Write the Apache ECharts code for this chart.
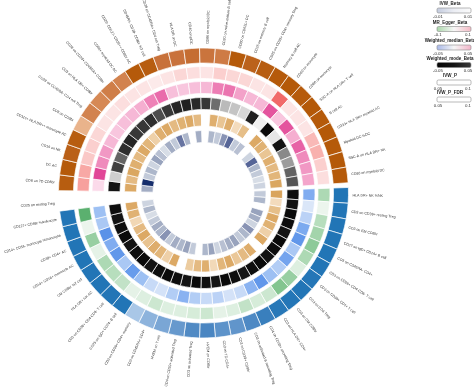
<!DOCTYPE html>
<html><head><meta charset="utf-8">
<script src="https://cdn.jsdelivr.net/npm/echarts@6/dist/echarts.min.js"></script>
<style>html,body{margin:0;padding:0;background:#fff}#c{width:474px;height:389px}</style>
</head><body><div id="c"></div>
<script>
// ---- data: 28 traits in the upper (positive) sector, 28 in the lower (negative) sector ----
const labels = [
  'CD8 on TD CD8br','DC AC','CD16 on NK','CD11c+ HLA DR++ monocyte AC','CD8 on CD8br',
  'CD28 on CD45RA- CD4 not Treg','CD3 on HLA DR+ CD8br','CD28 on CD28+ CD45RA+ CD8br','CD86+ myeloid DC AC',
  'CD28- CD127- CD25++ CD8br AC','CD45RA- CD28- CD8br %T cell','CD28 on CD45RA+ CD4 not Treg','HLA DR on DC',
  'CD40 on pDC','CD86 on myeloid DC','CD20 on naive-mature B cell','CD80 on CD62L+ DC','CD25 on memory B cell',
  'CD25 on CD39+ CD4+ memory Treg','Memory B cell AC','CD80 on monocyte','CD86 on monocyte',
  'SSC-A on HLA DR+ T cell','B cell AC','CD33+ HLA DR+ myeloid AC','Myeloid DC %DC','SSC-A on HLA DR+ NK',
  'CD80 on myeloid DC',
  'HLA DR+ NK %NK','CD3 on CD39+ resting Treg','CD3 on EM CD8br','CD27 on IgD+ CD24+ B cell','CD3 on CD45RA- CD4+',
  'CD3 on CD28+ CD4-CD8- T cell','CD3 on CD39+ CD4+ T cell','CD3 on CD4 Treg','CD3 on CM CD8br','CD3 on HLA DR+ CD4+',
  'CD4 on CD39+ secreting Treg','CD3 on activated & secreting Treg','CD3 on CD39+ CD8br','CD3 on TD CD4+',
  'HVEM on CD8br','CD3 on activated Treg','CD4 on CD39+ activated Treg','HVEM on T cell','CD3 on CD45RA+ CD4+',
  'CD3 on CD39+ CD4+ memory','CD25 on IgD+ CD24- B cell','CD3 on CD28+ CD4-CD8- T cell','HLA DR+ NK AC',
  'CM CD8br %T cell','CD14+ CD16+ monocyte AC','CD39+ CD4+ AC','CD14+ CD16- monocyte %monocyte',
  'CD127+ CD8br %leukocyte','CD25 on resting Treg'
];
const ivwBeta = [
  0.0095,0.0098,0.0092,0.0095,0.0035,0.0062,0.0058,0.0066,0.0062,0.0098,0.0095,0.0075,0.0074,0.0079,
  0.0073,0.0068,0.0098,0.0090,0.0095,0.0098,0.0099,0.0097,0.0099,0.0098,0.0099,0.0098,0.0099,0.0098,
  -0.0099,-0.0098,-0.0099,-0.0098,-0.0099,-0.0098,-0.0097,-0.0098,-0.0097,-0.0095,-0.0085,-0.0073,-0.0063,-0.0065,
  -0.0075,-0.0072,-0.0060,-0.0050,-0.0042,-0.0030,-0.0098,-0.0098,-0.0099,-0.0098,-0.0099,-0.0098,-0.0099,-0.0098
];
const mrEggerBeta = [
  0.065,0.060,0.040,0.035,0.030,0.020,0.020,0.025,0.020,0.020,0.015,0.020,0.030,0.025,
  0.020,0.035,0.030,0.030,0.020,0.020,0.095,0.020,0.020,0.020,0.050,0.055,0.035,0.025,
  -0.045,-0.010,-0.040,-0.050,-0.060,-0.045,-0.020,-0.055,-0.065,-0.030,-0.025,-0.035,-0.020,-0.015,
  -0.030,-0.025,-0.020,-0.020,-0.030,-0.020,-0.015,-0.035,-0.040,-0.045,-0.015,-0.055,-0.010,-0.085
];
const wMedianBeta = [
  0.012,0.048,0.033,0.030,0.022,0.018,0.020,0.022,0.025,0.035,0.040,0.020,0.018,0.020,
  0.022,0.036,0.038,0.028,0.022,0.022,0.045,0.018,0.045,0.025,0.042,0.033,0.030,0.027,
  -0.032,-0.010,-0.018,-0.033,-0.040,-0.022,-0.035,-0.020,-0.025,-0.040,-0.030,-0.015,-0.012,-0.018,
  -0.015,-0.020,-0.030,-0.020,-0.012,-0.015,-0.025,-0.038,-0.022,-0.040,-0.032,-0.042,-0.022,-0.025
];
const wModeBeta = [
  0.048,0.008,0.038,0.030,0.042,0.044,0.040,0.040,0.042,0.035,0.040,0.044,0.045,0.043,
  0.040,0.028,0.012,0.010,0.006,0.045,0.001,0.050,0.003,0.048,0.022,0.018,0.030,0.033,
  -0.049,-0.048,-0.050,-0.049,-0.048,-0.050,-0.049,-0.048,-0.050,-0.049,-0.047,-0.049,-0.050,-0.048,
  -0.049,-0.050,-0.048,-0.049,-0.050,-0.049,-0.048,-0.050,-0.049,-0.048,-0.050,-0.049,-0.048,-0.049
];
const ivwP = [
  0.012,0.020,0.010,0.015,0.020,0.012,0.018,0.030,0.015,0.012,0.020,0.016,0.012,0.020,
  0.050,0.015,0.025,0.014,0.035,0.022,0.050,0.012,0.016,0.025,0.015,0.020,0.018,0.010,
  0.008,0.035,0.022,0.012,0.016,0.030,0.012,0.050,0.014,0.020,0.026,0.012,0.018,0.034,
  0.015,0.020,0.028,0.050,0.012,0.030,0.018,0.014,0.024,0.012,0.020,0.033,0.016,0.012
];
const ivwPFdr = [
  0.55,0.05,0.70,0.60,0.75,0.50,0.65,0.80,0.55,0.70,0.35,0.60,1.00,0.55,
  1.00,0.60,0.70,0.45,0.30,0.70,0.65,1.00,0.75,0.30,0.60,0.70,0.80,0.75,
  0.70,0.60,1.00,0.50,0.55,0.75,0.45,0.60,0.70,0.50,0.55,0.65,0.75,0.50,
  0.60,1.00,0.70,0.50,0.60,0.55,0.70,0.45,0.60,0.55,0.70,0.80,0.60,0.75
];
const legendTitles = ['IVW_Beta','MR_Egger_Beta','Weighted_median_Beta','Weighted_mode_Beta','IVW_P','IVW_P_FDR'];
const legendTicks = [['-0.01','0.01'],['-0.1','0.1'],['-0.05','0.05'],['-0.05','0.05'],['0.05','0.1'],['0.05','0.1']];

// ---- layout / styles ----
const nTop = 28, gap = 0.3, nAll = labels.length;
const totalUnits = nAll + 2 * gap;
function cellStart(i) { return i < nTop ? gap / 2 + i : gap * 1.5 + i; }
const rings = [
  {data: ivwBeta, r0: 130, r1: 145, min: -0.01, max: 0.01,
   colors: ['#1f74b5','#4a86c2','#7aa6d5','#b5cfec','#f7f7f7','#f2c7a6','#dc9462','#c8713a','#b35806']},
  {data: mrEggerBeta, r0: 114.5, r1: 126.5, min: -0.1, max: 0.1,
   colors: ['#3f9f5a','#6dbb7d','#a3d4ab','#d6ecd9','#fbfbfb','#fcdede','#f9b9b7','#f68f8b','#f06060']},
  {data: wMedianBeta, r0: 99.5, r1: 111.5, min: -0.05, max: 0.05,
   colors: ['#3f7fe0','#6a9ded','#9dc0f3','#d2e1f8','#fafafa','#fbd9e9','#f5aed0','#ec77b1','#df3d92']},
  {data: wModeBeta, r0: 83.5, r1: 95.5, min: -0.05, max: 0.05,
   colors: ['#0a0a0a','#7a7a7a','#f5f5f5','#7a7a7a','#0a0a0a']},
  {data: ivwP, r0: 67, r1: 79, min: 0, max: 0.05,
   colors: ['#d49a4c','#dcaa66','#e9c594','#f5e1c6','#ffffff']},
  {data: ivwPFdr, r0: 50.5, r1: 62.5, min: 0, max: 1,
   colors: ['#0a2463','#46558e','#98a3bd','#cdd4e0','#ffffff']}
];
const legendBars = [
  ['#c3cbde','#eceef4','#fbfbfb'], ['#a9d6a9','#f7f7f7','#f4b9c4'], ['#a8b8e8','#f6f6f6','#f2b3c8'],
  ['#050505','#151515','#3a3a3a'], ['#ffffff','#ffffff'], ['#ffffff','#ffffff']
];

function sectorRender(ring) {
  return function (params, api) {
    const cs = params.coordSys;
    const a0 = cellStart(api.value(0));
    const p0 = api.coord([ring.r0, a0]);
    const p1 = api.coord([ring.r1, a0 + 1]);
    let sa = Math.atan2(p0[1] - cs.cy, p0[0] - cs.cx);
    let ea = Math.atan2(p1[1] - cs.cy, p1[0] - cs.cx);
    if (ea < sa) ea += Math.PI * 2;
    return {
      type: 'sector',
      shape: {cx: cs.cx, cy: cs.cy, r0: Math.hypot(p0[0] - cs.cx, p0[1] - cs.cy),
              r: Math.hypot(p1[0] - cs.cx, p1[1] - cs.cy), startAngle: sa, endAngle: ea, clockwise: true},
      style: {fill: api.visual('color'), stroke: '#ffffff', lineWidth: 0.7}
    };
  };
}
function labelRender(params, api) {
  const cs = params.coordSys;
  const i = api.value(0);
  const p = api.coord([149, cellStart(i) + 0.5]);
  const th = Math.atan2(cs.cy - p[1], p[0] - cs.cx);
  const right = Math.cos(th) >= 0;
  return {
    type: 'text', x: p[0], y: p[1], rotation: right ? th : th - Math.PI,
    style: {text: labels[i], fill: '#333', fontSize: 3.6, fontFamily: 'Liberation Sans',
            align: right ? 'left' : 'right', verticalAlign: 'middle'}
  };
}

const series = rings.map(function (ring) {
  return {type: 'custom', coordinateSystem: 'polar', renderItem: sectorRender(ring),
          data: ring.data.map(function (v, i) { return [i, v]; }), silent: true};
});
series.push({type: 'custom', coordinateSystem: 'polar', renderItem: labelRender,
             data: labels.map(function (l, i) { return [i, 0]; }), silent: true});

const visualMaps = rings.map(function (ring, k) {
  return {type: 'continuous', show: false, seriesIndex: k, dimension: 1,
          min: ring.min, max: ring.max, inRange: {color: ring.colors}};
});

const graphic = [];
const legY = [4, 22.5, 41, 58.5, 76, 93];
legendTitles.forEach(function (t, k) {
  const y = legY[k];
  graphic.push({type: 'text', x: 450, y: y, style: {text: t, fontSize: 4.5, fontWeight: 'bold',
    fontFamily: 'Liberation Sans', fill: '#222', align: 'center', verticalAlign: 'middle'}});
  const stops = legendBars[k].map(function (c, j, arr) { return {offset: j / (arr.length - 1), color: c}; });
  graphic.push({type: 'rect', shape: {x: 437, y: y + 4, width: 34, height: 5, r: 1.5},
    style: {fill: new echarts.graphic.LinearGradient(0, 0, 1, 0, stops), stroke: '#8a8a8a', lineWidth: 0.6}});
  graphic.push({type: 'text', x: 438, y: y + 12.3, style: {text: legendTicks[k][0], fontSize: 4.4,
    fontFamily: 'Liberation Sans', fill: '#333', align: 'center', verticalAlign: 'middle'}});
  graphic.push({type: 'text', x: 468, y: y + 12.3, style: {text: legendTicks[k][1], fontSize: 4.4,
    fontFamily: 'Liberation Sans', fill: '#333', align: 'center', verticalAlign: 'middle'}});
});

const chart = echarts.init(document.getElementById('c'), null, {renderer: 'canvas'});
chart.setOption({
  backgroundColor: '#ffffff',
  animation: false,
  polar: {center: [203.5, 193], radius: [0, 145]},
  angleAxis: {type: 'value', min: 0, max: totalUnits, startAngle: 180, clockwise: true,
    axisLine: {show: false}, axisTick: {show: false}, axisLabel: {show: false}, splitLine: {show: false}},
  radiusAxis: {type: 'value', min: 0, max: 145,
    axisLine: {show: false}, axisTick: {show: false}, axisLabel: {show: false}, splitLine: {show: false}},
  visualMap: visualMaps,
  series: series,
  graphic: graphic
});
</script></body></html>
